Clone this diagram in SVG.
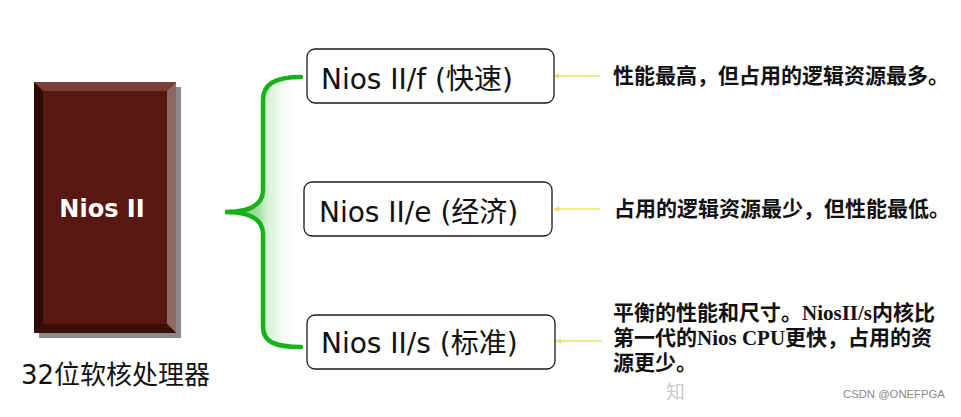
<svg xmlns="http://www.w3.org/2000/svg" width="961" height="417" viewBox="0 0 961 417">
<style>
.box{fill:#fff;stroke:#1a1a1a;stroke-width:1.3}
.lbl{font-family:"DejaVu Sans","Noto Sans CJK SC",sans-serif;font-size:28px;fill:#111}
.note{font-family:"Liberation Serif","Noto Sans CJK SC",serif;font-size:21px;font-weight:bold;fill:#111}
.arr{stroke:#EDE070;stroke-width:1.6;fill:none;marker-end:url(#ah)}
</style>
<defs>
<marker id="ah" viewBox="0 0 10 10" refX="9" refY="5" markerWidth="6" markerHeight="6" orient="auto" markerUnits="userSpaceOnUse">
<path d="M0,0 L10,5 L0,10 z" fill="#EDE070"/>
</marker>
<linearGradient id="gf" gradientUnits="userSpaceOnUse" x1="225" y1="0" x2="300" y2="0">
<stop offset="0" stop-color="#4dbb4d"/>
<stop offset="0.45" stop-color="#a6dea6"/>
<stop offset="0.55" stop-color="#d2efd2"/>
<stop offset="1" stop-color="#ffffff" stop-opacity="0"/>
</linearGradient>
</defs>
<rect width="961" height="417" fill="#fff"/>

<g id="nios2">
<rect x="39" y="87" width="142" height="251" fill="#8a8a8a"/>
<rect x="34" y="82" width="142" height="251" fill="#561810"/>
<polygon points="34,82 176,82 167,91 43,91" fill="#7B3E36"/>
<polygon points="34,82 43,91 43,324 34,333" fill="#2F0A06"/>
<polygon points="176,82 176,333 167,324 167,91" fill="#8E6761"/>
<polygon points="34,333 176,333 167,324 43,324" fill="#3B0E09"/>
<text x="102" y="217" text-anchor="middle" font-family="'DejaVu Sans',Verdana,sans-serif" font-weight="bold" font-size="24" fill="#fff">Nios II</text>
</g>
<g id="caption">
<text x="21" y="384" font-family="'DejaVu Sans','Noto Sans CJK SC',sans-serif" font-size="26" fill="#111">32位软核处理器</text>
</g>

<g id="connectors">
<path d="M301,77 C275,77 263,84 263,100 L263,190 C263,205 250,212 225,212 C250,212 263,219 263,234 L263,327 C263,342 275,347 301,347 L310,347 L310,77 Z" fill="url(#gf)" stroke="none"/>
<path d="M301,77 C275,77 263,84 263,100 L263,190 C263,205 250,212 225,212 C250,212 263,219 263,234 L263,327 C263,342 275,347 301,347" fill="none" stroke="#17B217" stroke-width="4.5" stroke-linecap="round"/>
<line class="arr" x1="600" y1="76" x2="554" y2="76"/>
<line class="arr" x1="600" y1="209" x2="554" y2="209"/>
<line class="arr" x1="602" y1="341" x2="556" y2="341"/>
</g>

<g id="node-f">
<rect class="box" x="307" y="49" width="247" height="54" rx="8"/>
<text class="lbl" x="321" y="89">Nios II/f (快速)</text>
</g>
<g id="node-e">
<rect class="box" x="304" y="182" width="248" height="54" rx="8"/>
<text class="lbl" x="319" y="222">Nios II/e (经济)</text>
</g>
<g id="node-s">
<rect class="box" x="307" y="315" width="248" height="54" rx="8"/>
<text class="lbl" x="321" y="353">Nios II/s (标准)</text>
</g>

<g id="note-f">
<text class="note" x="613" y="83">性能最高，但占用的逻辑资源最多。</text>
</g>
<g id="note-e">
<text class="note" x="614" y="216">占用的逻辑资源最少，但性能最低。</text>
</g>
<g id="note-s">
<text class="note" x="613" y="320">平衡的性能和尺寸。NiosII/s内核比</text>
<text class="note" x="613" y="345">第一代的Nios CPU更快，占用的资</text>
<text class="note" x="613" y="370">源更少。</text>
</g>

<g id="watermark">
<text x="666" y="399" font-family="'Noto Sans CJK SC',sans-serif" font-size="19" fill="#bdbdbd" opacity="0.8">知</text>
<text x="843" y="398" font-family="'Liberation Sans',Arial,sans-serif" font-size="11.3" fill="#8a8a8a">CSDN @ONEFPGA</text>
</g>
</svg>
